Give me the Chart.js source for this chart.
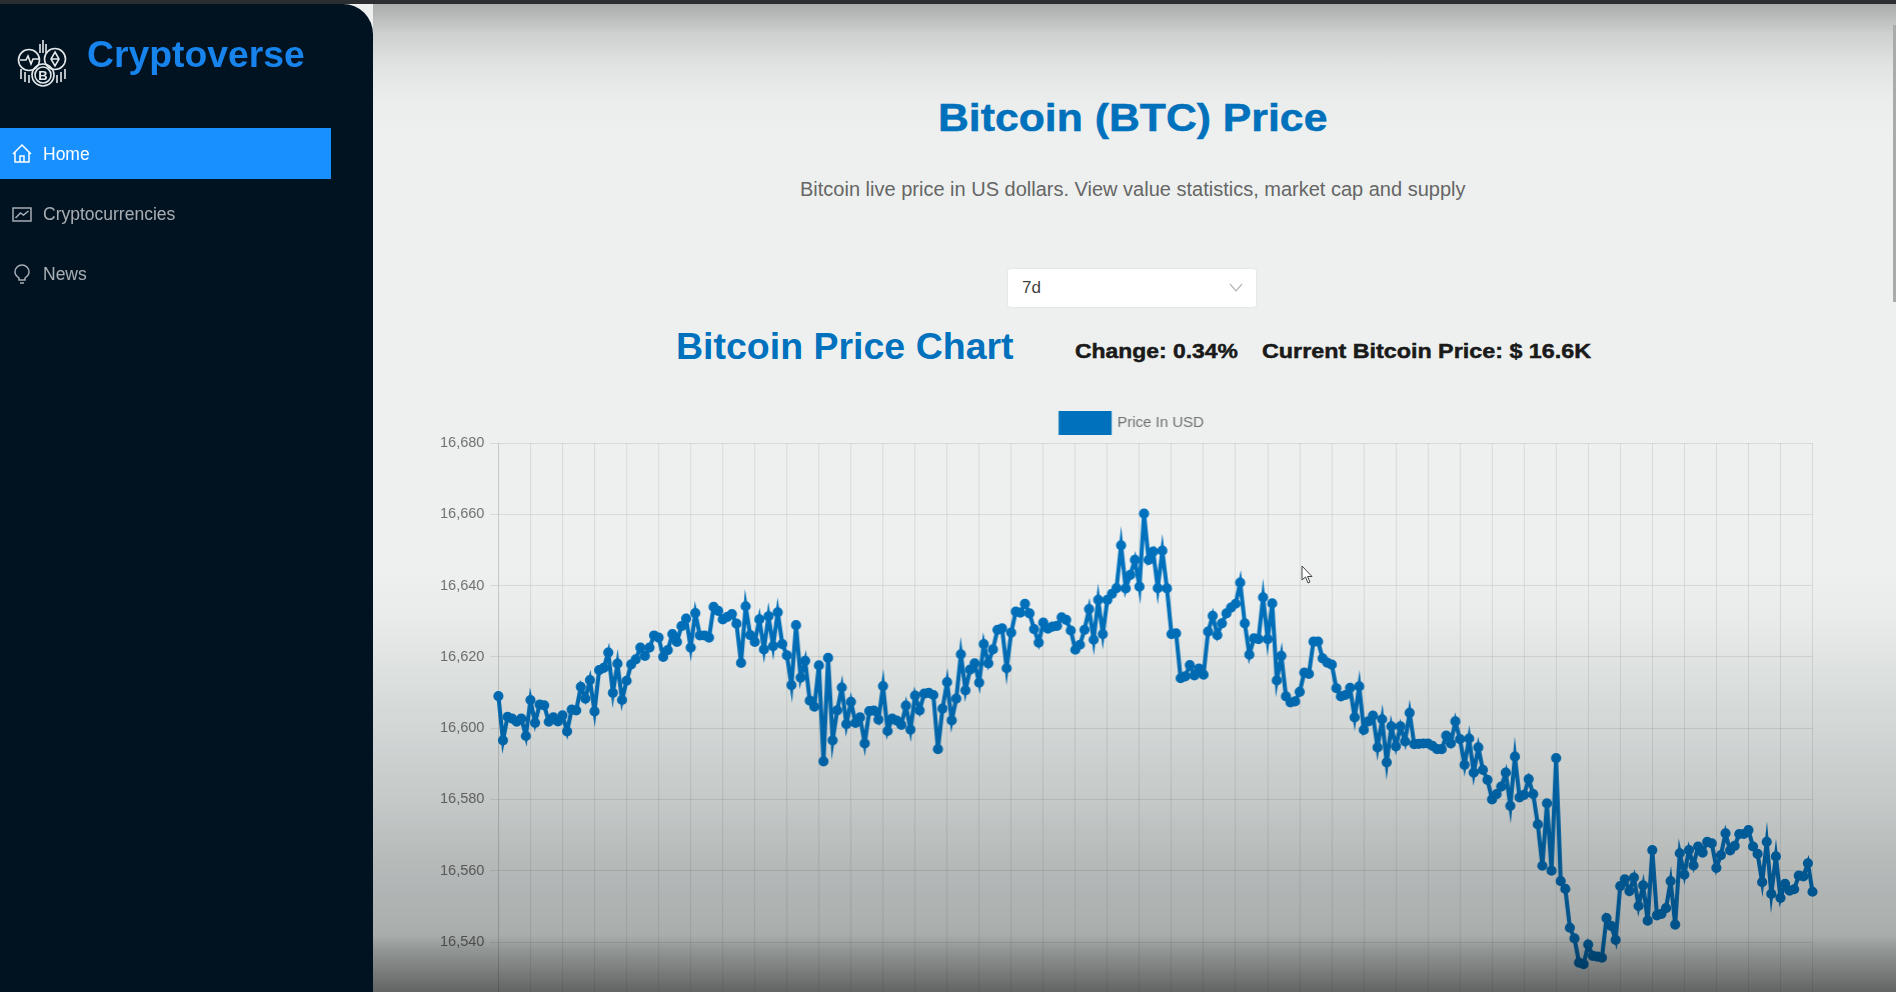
<!DOCTYPE html>
<html><head><meta charset="utf-8">
<script src="https://cdn.jsdelivr.net/npm/chart.js@4"></script>
<style>
html,body{margin:0;padding:0;width:1896px;height:992px;overflow:hidden;background:#edf0ef;font-family:"Liberation Sans",Arial,sans-serif}
.abs{position:absolute;white-space:nowrap}
.wide{transform-origin:left center;-webkit-text-stroke:.5px currentColor}
#side{position:absolute;left:0;top:4px;width:373px;height:988px;background:#011220;border-top-right-radius:30px;z-index:3}
#top{position:absolute;left:0;top:0;width:1896px;height:4px;background:#2a2e30;z-index:4}
#shade{position:absolute;left:373px;top:0;width:1523px;height:992px;z-index:2;mix-blend-mode:multiply;pointer-events:none;
background:linear-gradient(to bottom,#b6b6b6 0,#bbbbbb 7px,#dddddd 33px,#f3f3f3 67px,#fcfcfc 100px,#fff 133px,#fff 570px,#fafafa 620px,#e8eaea 700px,#d4d6d6 800px,#c4c6c6 860px,#b6b8b8 935px,#9d9f9f 950px,#6a6b6b 992px)}
#wrap{position:absolute;left:434px;top:403px;width:1384.5px;height:625px}
#sb{position:absolute;left:1893px;top:25px;width:3px;height:277px;background:#a9abab;z-index:3}
.nav{font-size:17.5px;color:rgba(255,255,255,.65)}
</style></head><body>
<div id="top"></div>
<div id="side"></div>
<svg class="abs" style="left:0;top:0;z-index:5" width="373" height="300" fill="none" stroke="#e4e8ea" stroke-width="1.6">
  <circle cx="29" cy="60" r="10.5"/><circle cx="55" cy="59" r="10.5"/><circle cx="43" cy="75" r="11"/><circle cx="43" cy="75" r="8"/>
  <path d="M20 60h6l2-4 3 8 2-5h6M55 52l4 7-4 7-4-7zM51 59h8M43 40v13M40 44v9M46 44v9M21 69v10M25 72v10M29 75v8M65 69v10M61 72v10M57 75v8"/>
  <text x="43" y="80" font-size="13" font-weight="700" fill="#e4e8ea" stroke="none" text-anchor="middle" font-family="Liberation Sans">B</text>
</svg>
<div class="abs" style="left:87px;top:30px;font-size:37.300px;line-height:48px;font-weight:700;color:#1784ee;z-index:5">Cryptoverse</div>
<div class="abs" style="left:0;top:128px;width:331px;height:51px;background:#1890ff;z-index:5"></div>
<svg class="abs" style="left:0;top:129px;z-index:6" width="40" height="180" fill="none" stroke-width="1.5">
  <path stroke="#fff" d="M13 25l9-9 9 9M15 23v10h14V23M20 33v-6h4v6"/>
  <path stroke="#a6adb4" d="M13 79h18v13H13zM15.500 89l5-5 3 2 5-4"/>
  <path stroke="#a6adb4" d="M19 149c-3-2-4-4-4-6a7 7 0 0 1 14 0c0 2-1 4-4 6v2h-6zM20 154h4"/>
</svg>
<div class="abs" style="left:43px;top:144px;font-size:17.5px;line-height:20px;color:#fff;z-index:6">Home</div>
<div class="abs nav" style="left:43px;top:204px;line-height:20px;z-index:6">Cryptocurrencies</div>
<div class="abs nav" style="left:43px;top:264px;line-height:20px;z-index:6">News</div>

<div class="abs wide" style="left:938px;top:94px;font-size:38.500px;line-height:48px;font-weight:700;color:#0071bd;transform:scaleX(1.11)">Bitcoin (BTC) Price</div>
<div class="abs" style="left:800px;top:177px;font-size:20px;line-height:24px;color:#666">Bitcoin live price in US dollars. View value statistics, market cap and supply</div>
<div class="abs" style="left:1008px;top:269px;width:248px;height:38px;background:#fff;border-radius:2px;box-shadow:0 0 2px rgba(0,0,0,.12)"></div>
<div class="abs" style="left:1022px;top:278px;font-size:17px;line-height:20px;color:#444">7d</div>
<svg class="abs" style="left:1229px;top:282px" width="14" height="12" fill="none" stroke="#bbb" stroke-width="1.300"><path d="M1 2l6 7 6-7"/></svg>
<div class="abs" style="left:676px;top:322px;font-size:37.500px;line-height:48px;font-weight:700;color:#0071bd">Bitcoin Price Chart</div>
<div class="abs wide" style="left:1075px;top:338px;font-size:21px;line-height:26px;font-weight:700;color:#1a1a1a;transform:scaleX(1.09)">Change: 0.34%</div>
<div class="abs wide" style="left:1262px;top:338px;font-size:21px;line-height:26px;font-weight:700;color:#1a1a1a;transform:scaleX(1.11)">Current Bitcoin Price: $ 16.6K</div>

<div id="wrap"><canvas id="c"></canvas></div>
<svg class="abs" style="left:1301px;top:565px;z-index:1" width="14" height="20"><path d="M1 1v14l3.500-3 2.500 6 2-1-2.500-5.500H11z" fill="#fff" stroke="#444" stroke-width="1"/></svg>
<div id="shade"></div>
<div id="sb"></div>
<script>
const seriesName = "Price In USD";
const yMin = 16520, yMax = 16680, yStep = 20;
const gridEvery = 7;
const prices = [
16609.0,16596.6,16603.2,16602.7,16601.8,16602.7,16597.8,16607.9,16601.5,16606.6,16606.4,16601.8,16603.0,16601.9,16603.6,16599.1,
16605.2,16605.0,16611.6,16608.3,16613.5,16604.7,16616.3,16616.9,16621.2,16609.9,16618.1,16607.9,16613.3,16617.9,16619.3,16622.6,
16620.3,16622.6,16626.0,16625.4,16620.0,16621.9,16626.4,16624.2,16628.6,16630.7,16622.6,16632.3,16626.0,16626.0,16625.4,16634.0,
16632.9,16630.5,16631.2,16632.0,16629.3,16618.3,16634.2,16626.1,16624.2,16630.5,16622.1,16631.4,16623.0,16632.5,16623.6,16620.4,
16612.1,16628.9,16614.2,16618.9,16607.7,16606.0,16617.6,16590.7,16619.7,16596.6,16605.0,16611.4,16601.1,16607.4,16601.5,16603.0,
16595.7,16604.8,16604.9,16602.4,16611.8,16599.2,16602.7,16602.1,16600.9,16606.3,16599.6,16609.1,16605.0,16609.7,16609.9,16609.3,
16594.1,16605.5,16612.9,16602.2,16608.3,16620.7,16610.6,16616.4,16618.2,16612.8,16623.6,16618.2,16622.1,16627.6,16628.0,16616.8,
16626.8,16632.7,16632.4,16634.9,16632.2,16627.8,16624.0,16629.6,16627.9,16628.5,16628.7,16631.1,16630.4,16627.4,16622.0,16623.4,
16627.6,16633.4,16624.8,16636.0,16626.4,16636.0,16637.7,16639.3,16651.3,16639.2,16643.0,16647.2,16639.7,16660.2,16647.2,16649.5,
16639.3,16649.8,16639.2,16626.4,16626.6,16614.0,16614.5,16617.7,16614.8,16616.7,16615.0,16627.1,16631.5,16626.1,16629.4,16632.2,
16633.8,16634.9,16640.8,16629.4,16620.6,16625.2,16625.0,16636.7,16625.0,16635.0,16613.4,16620.3,16608.9,16607.2,16607.5,16610.2,
16615.6,16615.2,16624.3,16624.3,16619.6,16618.4,16617.8,16611.2,16608.9,16609.3,16611.3,16603.0,16611.7,16599.5,16601.9,16603.5,
16594.6,16602.5,16590.4,16600.5,16594.9,16600.5,16596.3,16604.3,16595.5,16595.6,16595.7,16595.7,16595.0,16594.1,16594.1,16597.9,
16595.7,16601.9,16596.9,16589.7,16597.1,16587.5,16594.6,16588.3,16585.5,16580.0,16581.5,16583.6,16587.5,16578.2,16592.0,16580.6,
16581.3,16585.7,16581.5,16573.0,16561.4,16578.9,16560.0,16591.6,16557.1,16554.9,16544.0,16541.0,16534.2,16533.8,16539.3,16536.1,
16535.9,16535.6,16546.7,16544.5,16540.6,16555.7,16557.6,16554.3,16558.1,16550.1,16555.9,16546.0,16565.8,16547.5,16547.9,16549.5,
16557.1,16544.9,16564.9,16558.9,16565.8,16561.5,16566.8,16565.1,16568.1,16567.7,16560.8,16564.4,16570.5,16565.7,16567.0,16570.3,
16570.3,16571.4,16566.8,16564.7,16556.8,16568.1,16553.5,16564.0,16552.4,16556.3,16554.4,16554.8,16558.6,16558.4,16562.1,16554.1];
const labels = prices.map((_, i) => String(i));
const lineColor = "#0071bd", gridColor = "rgba(0,0,0,0.09)", textColor = "#707070";
Chart.defaults.font.family = '"Liberation Sans",Arial,sans-serif';
Chart.defaults.font.size = 14.5;
Chart.defaults.color = textColor;
const legendNudge = { id: "legendNudge", afterLayout(c) { c.legend.left += 5.5; c.legend.right += 5.5; } };
new Chart(document.getElementById("c"), {
  type: "line",
  plugins: [legendNudge],
  data: { labels, datasets: [{ label: seriesName, data: prices, borderColor: lineColor, backgroundColor: lineColor,
    borderWidth: 4.1, pointRadius: 3.6, pointBorderWidth: 3, tension: 0, borderJoinStyle: "miter" }] },
  options: {
    responsive: true, maintainAspectRatio: false, animation: false,
    plugins: { legend: { position: "top", labels: { boxWidth: 49, boxHeight: 20, padding: 10, font: { size: 15 } } }, tooltip: { enabled: false } },
    scales: {
      x: { grid: { color: gridColor, tickLength: 0 }, border: { color: gridColor },
        ticks: { display: false, autoSkip: false },
        afterBuildTicks: a => { a.ticks = a.ticks.filter((t, i) => i % gridEvery === 0); } },
      y: { min: yMin, max: yMax, grid: { color: gridColor }, border: { color: gridColor },
        ticks: { stepSize: yStep, padding: 6 } }
    }
  }
});
</script>
</body></html>
